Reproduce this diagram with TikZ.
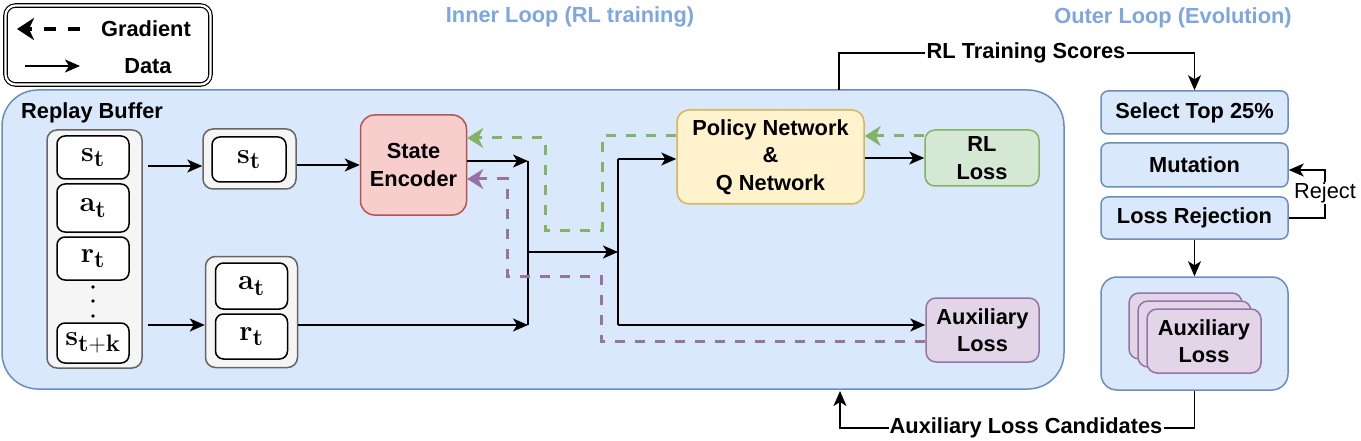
\documentclass[tikz,border=0pt]{standalone}
\usepackage[no-math]{fontspec}
\setmainfont{Liberation Sans}
\usetikzlibrary{arrows.meta}

\definecolor{bluefill}{HTML}{DAE8FC}
\definecolor{bluedraw}{HTML}{6C8EBF}
\definecolor{greyfill}{HTML}{F5F5F5}
\definecolor{greydraw}{HTML}{666666}
\definecolor{redfill}{HTML}{F8CECC}
\definecolor{reddraw}{HTML}{B85450}
\definecolor{yellowfill}{HTML}{FFF2CC}
\definecolor{yellowdraw}{HTML}{D6B656}
\definecolor{greenfill}{HTML}{D5E8D4}
\definecolor{greendraw}{HTML}{82B366}
\definecolor{purplefill}{HTML}{E1D5E7}
\definecolor{purpledraw}{HTML}{9673A6}
\definecolor{titleblue}{HTML}{7EA6E0}

\newcommand{\cellvar}[1]{\scalebox{1.15}{$\mathbf{#1}$}}

\tikzset{
  txt/.style={font=\bfseries\fontsize{21.8}{27.5}\selectfont, align=center},
  rbox/.style={draw, line width=1.5pt, rounded corners=10pt, inner sep=0pt, txt},
  bluebox/.style={rbox, fill=bluefill, draw=bluedraw},
  greybox/.style={rbox, fill=greyfill, draw=greydraw},
  cell/.style={rbox, fill=white, draw=black, rounded corners=8pt, font=\fontsize{24.88}{28}\selectfont},
  link/.style={line width=1.6pt},
  data/.style={link, -{Stealth[length=15pt,width=13pt,inset=4pt]}},
  grad/.style={line width=3pt, dash pattern=on 10pt off 10pt, -{Stealth[length=16pt,width=20pt,inset=5pt]}},
}

\begin{document}
\begin{tikzpicture}[x=1pt,y=-1pt]
\useasboundingbox (0,0) rectangle (1361,441);

% legend
\node (legend) at (108,45) [draw, double, double distance=2.2pt, line width=1.2pt, rounded corners=10pt, fill=white, minimum width=205pt, minimum height=79pt] {};
\coordinate (gradfrom) at (80,29);
\coordinate (gradto) at (17,29);
\coordinate (datafrom) at (25,66);
\coordinate (datato) at (80,66);
\draw [grad, line width=3.5pt, dash pattern=on 12pt off 12pt, -{Stealth[length=17pt,width=22pt,inset=5pt]}] (gradfrom) -- (gradto);
\draw [data] (datafrom) -- (datato);
\node (gradtxt) at (146,29) [txt] {Gradient};
\node (datatxt) at (148,66) [txt] {Data};

\node (innertitle) at (570,17) [txt, text=titleblue] {Inner Loop (RL training)};
\node (outertitle) at (1173,18) [txt, text=titleblue] {Outer Loop (Evolution)};

% inner loop
\node (innerloop) at (533,239.5) [bluebox, rounded corners=36pt, minimum width=1062pt, minimum height=299pt] {};
\node (buffertxt) at (21,113) [txt, anchor=west, inner sep=0pt] {Replay Buffer};

\node (buffer) at (94.5,249) [greybox, minimum width=95pt, minimum height=238pt] {};
\node (bs) at (93,157.5) [cell, minimum width=72pt, minimum height=43pt] {\cellvar{s_t}};
\node (ba) at (93,208) [cell, minimum width=72pt, minimum height=48pt] {\cellvar{a_t}};
\node (br) at (93,258.5) [cell, minimum width=72pt, minimum height=43pt] {\cellvar{r_t}};
\node (bk) at (93,343) [cell, minimum width=72pt, minimum height=40pt] {\cellvar{s_{t+k}}};
\fill (93,287) circle (1.8pt) (93,301) circle (1.8pt) (93,316) circle (1.8pt);

\node (stbox) at (249.5,159) [greybox, minimum width=93pt, minimum height=60pt] {};
\node (st) at (249,159.5) [cell, minimum width=74pt, minimum height=45pt] {\cellvar{s_t}};
\node (arbox) at (251.5,312) [greybox, minimum width=92pt, minimum height=111pt] {};
\node (at) at (251.5,286) [cell, minimum width=72pt, minimum height=46pt] {\cellvar{a_t}};
\node (rt) at (251.5,336.5) [cell, minimum width=72pt, minimum height=45pt] {\cellvar{r_t}};

\node (encoder) at (413.5,165) [rbox, fill=redfill, draw=reddraw, rounded corners=14pt, minimum width=106pt, minimum height=100pt] {State\\Encoder};
\node (policy) at (770.5,157) [rbox, fill=yellowfill, draw=yellowdraw, rounded corners=12pt, minimum width=187pt, minimum height=94pt] {Policy Network\\\&\\Q Network};
\node (rlloss) at (982,158) [rbox, fill=greenfill, draw=greendraw, minimum width=114pt, minimum height=56pt] {RL\\Loss};
\node (auxloss) at (982.5,330) [rbox, fill=purplefill, draw=purpledraw, minimum width=113pt, minimum height=64pt] {Auxiliary\\Loss};

\coordinate (jA) at (528,161);
\coordinate (jB) at (528,325);
\coordinate (jC) at (618,252);
\coordinate (jD) at (618,159);
\coordinate (jE) at (618,325);

\draw [data] ([xshift=5pt]buffer.east |- 0,166) -- (stbox.west |- 0,166);
\draw [data] ([xshift=5pt]buffer.east |- jB) -- (arbox.west |- jB);
\draw [data] (stbox.east |- encoder.west) -- (encoder.west);
\draw [data] (encoder.east |- jA) -- (jA);
\draw [data] (arbox.east |- jB) -- (jB);
\draw [link] (jA) -- (jB);
\draw [data, line width=2.4pt] (jA |- jC) -- (jC);
\draw [link] (jD) -- (jE);
\draw [data] (jD) -- (policy.west |- jD);
\draw [data] (jE) -- (auxloss.west |- jE);
\draw [data] (policy.east |- rlloss.west) -- (rlloss.west);

\draw [grad, greendraw] (rlloss.west |- 0,136) -- (policy.east |- 0,136);
\draw [grad, greendraw] (policy.west |- 0,136) -| (602,230) -| (545,138) -- (encoder.east |- 0,138);
\draw [grad, purpledraw] (auxloss.west |- 0,341) -| (601,276) -| (507,179) -- (encoder.east |- 0,179);

% outer loop
\node (select) at (1194.5,112.5) [bluebox, rounded corners=7pt, minimum width=187pt, minimum height=43pt] {Select Top 25\%};
\node (mutation) at (1194.5,165) [bluebox, rounded corners=7pt, minimum width=187pt, minimum height=44pt] {Mutation};
\node (rejection) at (1194.5,218) [bluebox, rounded corners=7pt, minimum width=187pt, minimum height=42pt] {Loss Rejection};
\node (pool) at (1194.5,333.5) [bluebox, rounded corners=16pt, minimum width=187pt, minimum height=113pt] {};
\node (card3) at (1185.5,326) [rbox, fill=purplefill, draw=purpledraw, minimum width=113pt, minimum height=66pt] {};
\node (card2) at (1194.5,334) [rbox, fill=purplefill, draw=purpledraw, minimum width=113pt, minimum height=66pt] {};
\node (card1) at (1204,341) [rbox, fill=purplefill, draw=purpledraw, minimum width=114pt, minimum height=64pt] {Auxiliary\\Loss};

\coordinate (rejbend) at (1325,193);
\draw [data] (rejection.east) -| (rejbend) |- ([yshift=-5pt]mutation.east);
\node (rejtxt) at (rejbend) [font=\fontsize{21.8}{27.5}\selectfont, fill=white, inner sep=1pt] {Reject};
\draw [data] (rejection.south) -- (pool.north);

% between the loops
\node (scores) at (1026,53) [txt, inner sep=1pt] {RL Training Scores};
\node (cands) at (1026,428) [txt, inner sep=1pt] {Auxiliary Loss Candidates};
\coordinate (scorefoot) at (839,90);
\coordinate (candfoot) at (840,391);
\draw [link] (scores.west) -| (scorefoot);
\draw [data] (scores.east) -| (select.north);
\draw [link] (pool.south) |- (cands.east);
\draw [data] (cands.west) -| (candfoot);

\end{tikzpicture}
\end{document}
